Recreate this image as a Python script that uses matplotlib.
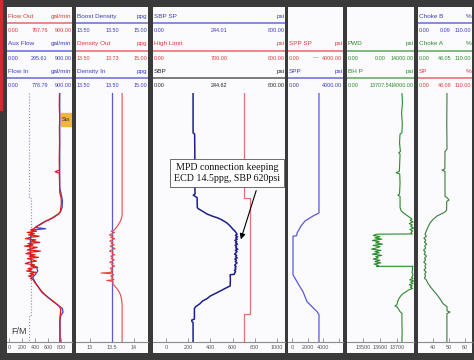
import matplotlib
matplotlib.use("Agg")
import matplotlib.pyplot as plt
from matplotlib.patches import Rectangle

W, H = 474, 360
SANS = ['Liberation Sans', 'DejaVu Sans']
SERIF = ['Liberation Serif', 'DejaVu Serif']

RED = '#e0383a'
BLUE = '#3a3ac4'
NAVY = '#1e1e8c'
GREEN = '#2c8a2c'
BLACK = '#222222'

# ---- header rows: (name, unit, color, min, current, max) ----
hdr_flow = [("Flow Out", "gal/min", RED, "0.00", "767.76", "900.00"),
            ("Aux Flow", "gal/min", BLUE, "0.00", "295.61", "900.00"),
            ("Flow In", "gal/min", BLUE, "0.00", "778.79", "900.00")]
hdr_dens = [("Boost Density", "ppg", BLUE, "13.50", "13.50", "15.00"),
            ("Density Out", "ppg", RED, "13.50", "13.73", "15.00"),
            ("Density In", "ppg", BLUE, "13.50", "13.50", "15.00")]
hdr_sbp = [("SBP SP", "psi", BLUE, "0.00", "244.01", "800.00"),
           ("High Limit", "psi", RED, "0.00", "700.00", "800.00"),
           ("SBP", "psi", BLACK, "0.00", "244.62", "800.00")]
hdr_spp = [None,
           ("SPP SP", "psi", RED, "0.00", "\u2014", "4000.00"),
           ("SPP", "psi", BLUE, "0.00", "", "4000.00")]
hdr_bhp = [None,
           ("PWD", "psi", GREEN, "0.00", "0.00", "14000.00"),
           ("BH P", "psi", GREEN, "0.00", "13707.54", "14000.00")]
hdr_choke = [("Choke B", "%", BLUE, "0.00", "0.09", "110.00"),
             ("Choke A", "%", GREEN, "0.00", "48.05", "110.00"),
             ("SP", "%", RED, "0.00", "48.09", "110.00")]

# ---- bottom axis ticks ----
ticks_flow = [0, 200, 400, 600, 800]
ticks_dens = [13, 13.5, 14]
ticks_sbp = [0, 200, 400, 600, 800, 1000]
ticks_spp = [0, 2000, 4000, 6000]
ticklab_spp = ["0", "2000", "4000", ""]
ticks_bhp = [13500, 13600, 13700]
ticks_choke = [40, 50, 60]

# ---- traces: (time index, value) ----
flow_out = [(0, 772), (5, 768), (10, 775), (14, 770), (20, 772), (26, 768), (31, 770), (31.6, 705),
            (32.2, 768), (36, 772), (40, 776), (42, 795), (44, 800), (46, 792), (47.5, 785), (48.5, 760),
            (49.5, 700), (50.5, 640), (51.5, 560), (52.5, 500), (53.5, 430), (54.5, 380),
            (55, 330), (55.5, 420), (56, 280), (56.5, 390), (57, 300), (57.5, 460), (58, 320), (58.5, 250),
            (59, 410), (59.5, 330), (60, 470), (60.5, 290), (61, 370), (61.5, 240), (62, 430), (62.5, 350),
            (63, 280), (63.5, 480), (64, 330), (64.5, 260), (65, 400), (65.5, 310), (66, 450), (66.5, 280),
            (67, 360), (67.5, 420), (68, 300), (68.5, 250), (69, 390), (69.5, 330), (70, 440), (70.5, 290),
            (71, 350), (71.5, 270), (72, 410), (72.5, 320), (73, 380), (73.5, 300), (74, 360), (74.5, 330),
            (75, 370), (76, 390), (77, 420), (78, 450), (79, 480), (80, 510), (81, 550), (82, 590),
            (83, 640), (84, 690), (85, 740), (85.8, 775), (87, 790), (88.5, 785), (90, 780), (93, 775),
            (96, 778), (100, 778)]
flow_in = [(0, 775), (38, 775), (41, 800), (43, 815), (46, 812), (47.5, 790), (48.5, 760), (50, 680),
           (52, 520), (54, 400), (54.5, 560), (55, 360), (58, 330), (62, 320), (66, 330), (69, 350),
           (70, 420), (71.5, 440), (73, 400), (74, 360), (76, 400), (80, 500), (84, 690), (85.8, 775),
           (86.5, 815), (88, 825), (89, 800), (90, 780), (100, 778)]
aux_flow = [(0, 305), (42, 305), (42, 340), (89, 340), (89, 300), (100, 300)]

density_out = [(0, 13.73), (49, 13.73), (50, 13.72), (51.5, 13.69), (53, 13.64), (54, 13.6), (55, 13.55),
               (55.5, 13.48), (56, 13.56), (56.5, 13.5), (57, 13.44), (57.5, 13.53), (58, 13.47),
               (58.5, 13.56), (59, 13.5), (59.5, 13.45), (60, 13.52), (60.5, 13.48), (61, 13.55),
               (61.5, 13.46), (62, 13.51), (62.5, 13.57), (63, 13.49), (63.5, 13.44), (64, 13.53),
               (64.5, 13.5), (65, 13.56), (65.5, 13.47), (66, 13.52), (66.5, 13.48), (67, 13.55),
               (67.5, 13.5), (68, 13.45), (68.5, 13.53), (69, 13.49), (69.5, 13.56), (70, 13.5),
               (70.5, 13.46), (71, 13.52), (71.5, 13.48), (72, 13.5), (72.3, 13.25), (72.6, 13.5),
               (73, 13.54), (73.5, 13.47), (74, 13.52), (74.5, 13.49), (75, 13.55), (75.3, 13.38),
               (75.6, 13.5), (76, 13.53), (76.5, 13.51), (77.5, 13.56), (78.5, 13.61), (79.5, 13.65),
               (80.5, 13.68), (81.5, 13.7), (83, 13.72), (85, 13.73), (100, 13.73)]
density_in = [(0, 13.5), (100, 13.5)]

sbp = [(0, 244), (16, 244), (16.5, 258), (25, 260), (35, 258), (40.5, 262), (41, 246), (41.5, 262),
       (42, 280), (46, 282), (46.5, 292), (47.5, 330), (48.6, 369), (49.5, 420), (50.2, 468), (51, 505),
       (52.2, 549), (53.5, 580), (54.7, 603), (55.5, 622), (56.7, 640),
       (57.2, 625), (57.7, 645), (58.2, 628), (58.7, 642), (59.2, 620), (59.7, 638), (60.2, 626),
       (60.7, 644), (61.2, 622), (61.7, 636), (62.2, 628), (62.7, 646), (63.2, 624), (63.7, 640),
       (64.2, 630), (64.7, 618), (65.2, 636), (65.7, 626), (66.2, 642), (66.7, 620), (67.2, 634),
       (67.7, 624), (68.2, 640), (68.7, 628), (69.2, 618), (69.7, 632), (70.2, 622), (70.7, 630),
       (71.2, 616), (71.7, 628), (72.2, 620), (72.8, 615), (73, 578), (75, 580), (77.5, 578),
       (78.5, 532), (79.5, 490), (80.6, 441), (81.5, 400), (82.6, 369), (83.5, 330), (84.6, 306),
       (85.8, 268), (86.5, 256), (90.8, 256), (91.2, 232), (91.8, 234), (92.2, 244), (100, 244)]
high_limit = [(0, 700), (42, 700), (42, 757), (88.7, 757), (88.7, 700), (100, 700)]

spp = [(0, 3480), (48.2, 3480), (49.4, 2710), (51.4, 1680), (53.4, 1160), (56.3, 650), (57.3, 600),
       (57.5, 130), (73, 130), (76.5, 774), (79.8, 1420), (83.8, 1935), (85.8, 2580), (87.8, 3226),
       (89, 3480), (100, 3480)]

bh_p = [(0, 13729), (4, 13732), (8, 13727), (12, 13731), (16, 13729), (16.5, 13718), (20, 13715),
        (23.5, 13720), (24, 13710), (24.5, 13718), (28, 13716), (31.5, 13714), (32, 13695), (32.5, 13716),
        (36, 13718), (40.5, 13715), (41, 13705), (41.5, 13718), (46, 13718), (47.4, 13725), (48.6, 13747),
        (50.6, 13788), (51.2, 13778), (51.8, 13795), (52.4, 13772), (53, 13790), (53.6, 13780),
        (54.2, 13798), (54.8, 13776), (55.4, 13792), (56, 13782), (56.6, 13790), (56.7, 13582),
        (57.2, 13560), (57.7, 13600), (58.2, 13570), (58.7, 13610), (59.2, 13555), (59.7, 13595),
        (60.2, 13575), (60.7, 13615), (61.2, 13560), (61.7, 13600), (62.2, 13580), (62.7, 13550),
        (63.2, 13605), (63.7, 13570), (64.2, 13595), (64.7, 13555), (65.2, 13610), (65.7, 13575),
        (66.2, 13590), (66.7, 13560), (67.2, 13600), (67.7, 13570), (68.2, 13605), (68.7, 13565),
        (69.2, 13590), (69.6, 13580), (69.6, 13794), (70.2, 13790), (71, 13792), (72, 13788),
        (73, 13794), (74, 13786), (74.5, 13795), (75, 13775), (75.5, 13798), (76, 13780), (76.5, 13795),
        (77, 13772), (77.5, 13790), (78, 13778), (78.5, 13792), (79, 13770), (79.5, 13760),
        (80.6, 13735), (81.5, 13722), (82.5, 13712), (83.5, 13705), (85, 13700), (85.5, 13688),
        (86, 13702), (87.8, 13718), (88.5, 13729), (92, 13729), (96, 13730), (100, 13729)]

choke = [(0, 48.75), (12, 48.6), (22.5, 48.75), (23.5, 47.5), (30.5, 47.4), (31, 45.6), (31.5, 47.5),
         (41.5, 47.5), (42, 48.75), (43, 50), (43.5, 48.6), (47, 48.5), (47.8, 47.5), (49.4, 42.5),
         (50.8, 40), (52.2, 38.1), (54.7, 36.25), (56.7, 35),
         (57.5, 35.8), (58.3, 34.3), (59.1, 35.5), (59.9, 34.6), (60.7, 36), (61.5, 34.8), (62.3, 35.4),
         (63.1, 34.1), (63.9, 35.2), (64.7, 34.5), (65.5, 35.9), (66.3, 34.7), (67.1, 35.3), (67.9, 34.2),
         (68.7, 35.6), (69.5, 34.9), (70.3, 35.4), (71.1, 34.4), (71.9, 35.7), (72.7, 34.8), (73.5, 35.3),
         (74.3, 34.6), (75.1, 35.8), (76.5, 36.9), (78, 38.5), (79.5, 40.5), (81, 42.5), (82.8, 44.5),
         (84.6, 46.25), (85.8, 48.75), (87.5, 48.8), (88, 50.6), (88.6, 48.7), (100, 48.7)]

# panels: pixel extents, x-limits, header, ticks, tick labels, traces (data, color, style, lw)
panels = [
    dict(px=(7, 72), xlim=(-30, 962), hdr=hdr_flow, ticks=ticks_flow, labels=None,
         traces=[(aux_flow, '#8c8cb4', ':', 0.8), (flow_in, '#4040d0', '-', 0.9), (flow_out, '#e01818', '-', 0.9)]),
    dict(px=(76, 148), xlim=(12.68, 14.32), hdr=hdr_dens, ticks=ticks_dens, labels=None,
         traces=[(density_in, '#5a5ad8', '-', 0.9), (density_out, '#e84848', '-', 0.8)]),
    dict(px=(153, 285), xlim=(-117, 1072), hdr=hdr_sbp, ticks=ticks_sbp, labels=None,
         traces=[(high_limit, '#e87070', '-', 0.9), (sbp, NAVY, '-', 1.1)]),
    dict(px=(288, 343), xlim=(-516, 6580), hdr=hdr_spp, ticks=ticks_spp, labels=ticklab_spp,
         traces=[(spp, '#5858d8', '-', 0.9)]),
    dict(px=(347, 414), xlim=(13406, 13800), hdr=hdr_bhp, ticks=ticks_bhp, labels=None,
         traces=[(bh_p, '#2a8a2a', '-', 0.8)]),
    dict(px=(418, 472), xlim=(30.6, 64.4), hdr=hdr_choke, ticks=ticks_choke, labels=None,
         traces=[(choke, '#3c7a3c', '-', 0.8)]),
]

TOP, BOT = 7, 353
PLOT_TOP, PLOT_BOT = 93, 342
ROW_Y = [(16, 22.8, 30), (43.5, 50.7, 58), (71, 78.3, 85.3)]


def rect(x0, y0, x1, y1):
    return [x0 / W, 1 - y1 / H, (x1 - x0) / W, (y1 - y0) / H]


fig = plt.figure(figsize=(W / 100, H / 100), dpi=100, facecolor='#3a3a3a')

for p in panels:
    x0, x1 = p['px']
    bg = fig.add_axes(rect(x0, TOP, x1, BOT))
    bg.set_facecolor('#fbfbfd')
    bg.set_xlim(x0, x1)
    bg.set_ylim(BOT, TOP)
    bg.set_xticks([])
    bg.set_yticks([])
    for s in bg.spines.values():
        s.set_visible(False)
    xc = (x0 + x1) / 2
    for row, (ty, ly, vy) in zip(p['hdr'], ROW_Y):
        if row is None:
            continue
        name, unit, col, vmin, vcur, vmax = row
        bg.text(x0 + 1, ty, name, color=col, fontsize=4.6, family=SANS, ha='left', va='center')
        bg.text(x1 - 0.5, ty, unit, color=col, fontsize=4.6, family=SANS, ha='right', va='center')
        bg.plot([x0, x1], [ly, ly], color=col, lw=1.1, alpha=0.75)
        bg.text(x0 + 1, vy, vmin, color=col, fontsize=3.9, family=SANS, ha='left', va='center')
        bg.text(xc, vy, vcur, color=col, fontsize=3.9, family=SANS, ha='center', va='center')
        bg.text(x1 - 0.5, vy, vmax, color=col, fontsize=3.9, family=SANS, ha='right', va='center')

    ax = fig.add_axes(rect(x0, PLOT_TOP, x1, PLOT_BOT))
    ax.patch.set_alpha(0)
    ax.set_xlim(*p['xlim'])
    ax.set_ylim(100, 0)
    for trace, col, ls, lw in p['traces']:
        t = [a for a, b in trace]
        v = [b for a, b in trace]
        ax.plot(v, t, color=col, ls=ls, lw=lw)
    for k in ('top', 'left', 'right'):
        ax.spines[k].set_visible(False)
    ax.spines['bottom'].set_color('#8a8a8a')
    ax.spines['bottom'].set_linewidth(0.8)
    ax.set_yticks([])
    ax.set_xticks(p['ticks'])
    ax.set_xticklabels(p['labels'] if p['labels'] else [f"{v:g}" for v in p['ticks']])
    ax.tick_params(axis='x', direction='in', length=3, width=0.6, color='#8a8a8a',
                   labelsize=3.9, labelcolor='#555555', pad=2.5)
    for lab in ax.get_xticklabels():
        lab.set_family(SANS)

    if p['hdr'] is hdr_flow:
        bg.add_patch(Rectangle((61, 113), 12, 13, color='#f2b43a', zorder=5))
        bg.text(62, 119.5, "Sta", fontsize=4, family=SANS, color='#333333', va='center', zorder=6)
        bg.text(11, 331, "F/M", fontsize=6.5, family=SANS, color='#3a3a3a', va='center')

# overlay for the left red strip and the callout
over = fig.add_axes([0, 0, 1, 1])
over.set_xlim(0, W)
over.set_ylim(H, 0)
over.axis('off')
over.patch.set_alpha(0)
over.add_patch(Rectangle((0, 0), 2, 110, color='#c83030'))

over.text(227, 173, "MPD connection keeping\nECD 14.5ppg, SBP 620psi", fontsize=7.2, family=SERIF,
          ha='center', va='center', linespacing=1.3, color='#111111',
          bbox=dict(boxstyle='square,pad=0.35', fc='white', ec='#555555', lw=0.6))
over.annotate("", xy=(240, 242), xytext=(257, 188),
              arrowprops=dict(arrowstyle='-|>', color='black', lw=0.8, mutation_scale=8))

fig.savefig("out.png", dpi=100, facecolor=fig.get_facecolor())
